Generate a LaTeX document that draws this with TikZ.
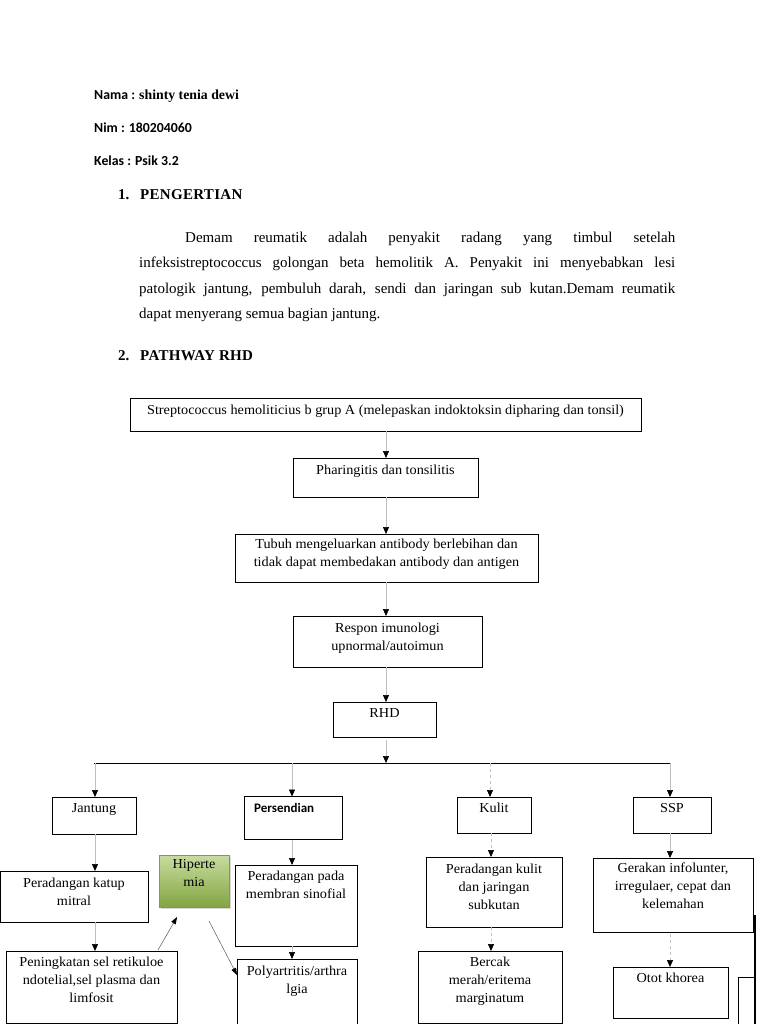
\documentclass[tikz,border=0pt]{standalone}
\usepackage{fontspec}
\setmainfont{Liberation Serif}
\newfontfamily\calib{Carlito}
\newfontfamily\boxfont[FakeStretch=1.04]{Liberation Serif}
\usetikzlibrary{arrows.meta,shadows}
\newcommand\bx[7]{%
  \node[box, minimum width={#4-#2}, minimum height={#5-#3}] (#1) at ({(#2+#4)/2},{(#3+#5)/2}) {};
  \node[txt] (#1t) at ({(#2+#4)/2},{#6-11}) {\rule{0pt}{11pt}#7};}
\begin{document}
\begin{tikzpicture}[x=1pt,y=-1pt,
  box/.style={draw=black, line width=0.9pt, inner sep=0pt, outer sep=0pt},
  txt/.style={inner sep=0pt, align=center, anchor=north, font=\boxfont\fontsize{13.7}{18}\selectfont},
  conn/.style={draw=gray!50, line width=0.7pt, -{Triangle[width=6pt,length=7pt,black]}},
  thin/.style={draw=gray!70!black, line width=0.5pt, -{Triangle[width=5pt,length=7pt,black]}},
  hdr/.style={inner sep=0pt, anchor=base west, font=\calib\bfseries\fontsize{13.8}{16}\selectfont},
  sec/.style={inner sep=0pt, anchor=base west, font=\bfseries\fontsize{15}{18}\selectfont},
  para/.style={inner sep=0pt, anchor=base west, font=\fontsize{15}{18}\selectfont},
]
\useasboundingbox[fill=white] (0,0) rectangle (768,1024);

% header
\node[hdr] (nama) at (94,100) {Nama : {\rmfamily\bfseries shinty tenia dewi}};
\node[hdr] (nim) at (94,133) {Nim : 180204060};
\node[hdr] (kelas) at (94,166) {Kelas : Psik 3.2};
\node[sec] (s1n) at (118,200) {1.};
\node[sec] (s1) at (140,200) {\addfontfeature{LetterSpace=2}PENGERTIAN};

% paragraph
\node[para] (p1) at (185,242) {\makebox[490pt][s]{Demam reumatik adalah penyakit radang yang timbul setelah}};
\node[para] (p2) at (139,267) {\makebox[536pt][s]{infeksistreptococcus golongan beta hemolitik A. Penyakit ini menyebabkan lesi}};
\node[para] (p3) at (139,293) {\makebox[536pt][s]{patologik jantung, pembuluh darah, sendi dan jaringan sub kutan.Demam reumatik}};
\node[para] (p4) at (139,318) {dapat menyerang semua bagian jantung.};

\node[sec] (s2n) at (118,360) {2.};
\node[sec] (s2) at (140,360) {\addfontfeature{LetterSpace=2}PATHWAY RHD};

% main chain
\bx{b1}{130}{398}{641}{431}{414}{Streptococcus hemoliticius b grup A (melepaskan indoktoksin dipharing dan tonsil)}
\bx{b2}{293}{458}{478}{497}{474}{Pharingitis dan tonsilitis}
\bx{b3}{235}{534}{538}{582}{548}{Tubuh mengeluarkan antibody berlebihan dan\\tidak dapat membedakan antibody dan antigen}
\bx{b4}{293}{616}{482}{667}{632}{Respon imunologi\\upnormal/autoimun}
\bx{rhd}{333}{702}{436}{737}{717}{RHD}

\coordinate (a0) at (386,431);
\draw[conn] (a0) -- (a0 |- b2.north);
\draw[conn] (a0 |- b2.south) -- (a0 |- b3.north);
\draw[conn] (a0 |- b3.south) -- (a0 |- b4.north);
\draw[conn] (a0 |- b4.south) -- (a0 |- rhd.north);

% bus
\coordinate (busL) at (94,763);
\coordinate (busR) at (670,763);
\draw[black, line width=0.9pt] (busL) -- (busR);
\draw[conn] (a0 |- rhd.south) ++(0,3) -- (a0 |- busL);

% second row
\bx{jan}{52}{797}{136}{834}{812}{Jantung}
\node[box, minimum width=98, minimum height=43] (per) at (293,818) {};
\node[inner sep=0pt, anchor=base west, font=\calib\bfseries\fontsize{13}{16}\selectfont] (pert) at (254,812) {Persendian};
\bx{kul}{457}{797}{531}{833}{812}{Kulit}
\bx{ssp}{633}{797}{711}{833}{812}{SSP}

\coordinate (d1) at (95,763);
\coordinate (d2) at (292,763);
\coordinate (d3) at (490,763);
\coordinate (d4) at (670,763);
\draw[conn] (d1) -- (d1 |- jan.north);
\draw[conn] (d2) -- (d2 |- per.north);
\draw[conn, dashed] (d3) -- (d3 |- kul.north);
\draw[conn] (d4) -- (d4 |- ssp.north);

% third row
\bx{pk}{0}{871}{148}{922}{887}{Peradangan katup\\mitral}
\bx{pen}{6}{951}{177}{1023}{966}{Peningkatan sel retikuloe\\ndotelial,sel plasma dan\\limfosit}
\node[draw=green!40!black!60, line width=0.6pt, top color={rgb,255:red,200;green,220;blue,160},
  bottom color={rgb,255:red,130;green,165;blue,65},
  drop shadow={shadow xshift=2pt, shadow yshift=-2pt, fill=gray!60},
  minimum width=70, minimum height=52, inner sep=0pt] (hip) at (194,881) {};
\node[txt] (hipt) at (194,857) {\rule{0pt}{11pt}Hiperte\\mia};
\bx{pp}{235}{865}{357}{946}{880}{Peradangan pada\\membran sinofial}
\bx{poly}{237}{959}{357}{1034}{975}{Polyartritis/arthra\\lgia}
\bx{pkul}{426}{857}{562}{927}{873}{Peradangan kulit\\dan jaringan\\subkutan}
\bx{ber}{418}{951}{562}{1023}{966}{Bercak\\merah/eritema\\marginatum}
\bx{ger}{593}{858}{753}{932}{872}{Gerakan infolunter,\\irregulaer, cepat dan\\kelemahan}
\bx{otot}{613}{967}{728}{1018}{982}{Otot khorea}

\draw[conn] (jan.south -| d1) -- (d1 |- pk.north);
\draw[conn] (d1 |- pk.south) -- (d1 |- pen.north);
\draw[conn] (per.south -| d2) -- (d2 |- pp.north);
\draw[conn] (d2 |- pp.south) -- (d2 |- poly.north);
\coordinate (d3b) at (491,763);
\draw[conn, dashed] (kul.south -| d3b) -- (d3b |- pkul.north);
\draw[conn, dashed] (d3b |- pkul.south) -- (d3b |- ber.north);
\draw[conn] (ssp.south -| d4) -- (d4 |- ger.north);
\draw[conn, dashed] (d4 |- ger.south) ++(0,2) -- (d4 |- otot.north);

% hipertemia links
\coordinate (h1s) at (158,950);
\coordinate (h1e) at (177,917);
\draw[thin] (h1s) -- (h1e);
\coordinate (h2s) at (209,921);
\coordinate (h2e) at (237,975);
\draw[thin] (h2s) -- (h2e);

% right edge fragments
\draw[black, line width=1.6pt] (755,915) -- (755,1024);
\draw[box] (738,977) rectangle (755,1030);
\end{tikzpicture}
\end{document}
